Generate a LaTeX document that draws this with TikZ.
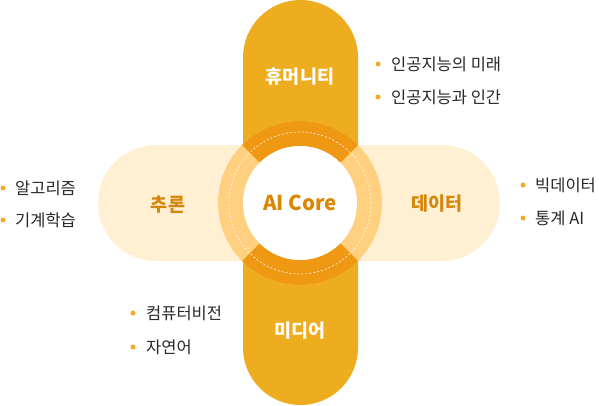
\documentclass[tikz,border=0pt]{standalone}
\usepackage{fontspec}
\setmainfont{Noto Sans CJK KR}
\definecolor{vbar}{RGB}{237,173,30}
\definecolor{hbar}{RGB}{255,240,212}
\definecolor{ringdark}{RGB}{238,152,20}
\definecolor{ringlight}{RGB}{255,208,128}
\definecolor{coretxt}{RGB}{217,134,0}
\definecolor{sidetxt}{RGB}{212,135,10}
\definecolor{bul}{RGB}{247,168,40}
\definecolor{itemtxt}{RGB}{40,40,40}
\tikzset{
  whitelabel/.style={font=\bfseries\fontsize{18.5}{22}\selectfont, text=white, inner sep=0pt},
  sidelabel/.style={font=\bfseries\fontsize{18.5}{22}\selectfont, text=sidetxt, inner sep=0pt},
  item/.style={font=\fontsize{16.5}{19}\selectfont, text=itemtxt, anchor=west, inner sep=0pt},
  bulletdot/.style={circle, fill=bul, minimum size=5pt, inner sep=0pt},
}
\begin{document}
\begin{tikzpicture}[x=1pt,y=1pt]
\useasboundingbox (0,0) rectangle (599,405);
% horizontal bar
\fill[hbar] (156,144) -- (442,144) arc[start angle=-90,end angle=90,radius=58pt] -- (156,260) arc[start angle=90,end angle=270,radius=58pt] -- cycle;
% vertical bar
\fill[vbar] (243,57.5) -- (243,347.5) arc[start angle=180,end angle=0,radius=57.5pt] -- (358,57.5) arc[start angle=0,end angle=-180,radius=57.5pt] -- cycle;
% ring
\begin{scope}[shift={(300pt,202pt)}]
\fill[ringlight] (0,0) circle[radius=82pt];
\fill[ringdark] (45:57pt) -- (45:82pt) arc[start angle=45,end angle=135,radius=82pt] -- (135:57pt) arc[start angle=135,end angle=45,radius=57pt] -- cycle;
\fill[ringdark] (225:57pt) -- (225:82pt) arc[start angle=225,end angle=315,radius=82pt] -- (315:57pt) arc[start angle=315,end angle=225,radius=57pt] -- cycle;
\draw[white, opacity=0.75, line width=0.8pt, dash pattern=on 2pt off 2pt] (0,0) circle[radius=71pt];
\fill[white] (0,0) circle[radius=57pt];
\end{scope}
% labels
\node[font=\bfseries\fontsize{20.5}{24}\selectfont, text=coretxt, inner sep=0pt] (core) at (300,202) {AI Core};
\node[whitelabel] (hum) at (300,328) {휴머니티};
\node[whitelabel] (med) at (300,74) {미디어};
\node[sidelabel] (inf) at (168,200) {추론};
\node[sidelabel] (dat) at (437,201) {데이터};
% items top-right
\node[bulletdot] (b1) at (378,341) {};
\node[item] (t1) at (391,341) {인공지능의 미래};
\node[bulletdot] (b2) at (378,308) {};
\node[item] (t2) at (391,308) {인공지능과 인간};
% items right
\node[bulletdot] (b3) at (523,220) {};
\node[item] (t3) at (535,220) {빅데이터};
\node[bulletdot] (b4) at (523,187) {};
\node[item] (t4) at (535,187) {통계 AI};
% items left
\node[bulletdot] (b5) at (3,217) {};
\node[item] (t5) at (15,217) {알고리즘};
\node[bulletdot] (b6) at (3,185) {};
\node[item] (t6) at (15,185) {기계학습};
% items bottom-left
\node[bulletdot] (b7) at (133,92) {};
\node[item] (t7) at (146,92) {컴퓨터비전};
\node[bulletdot] (b8) at (133,58) {};
\node[item] (t8) at (146,58) {자연어};
\end{tikzpicture}
\end{document}
